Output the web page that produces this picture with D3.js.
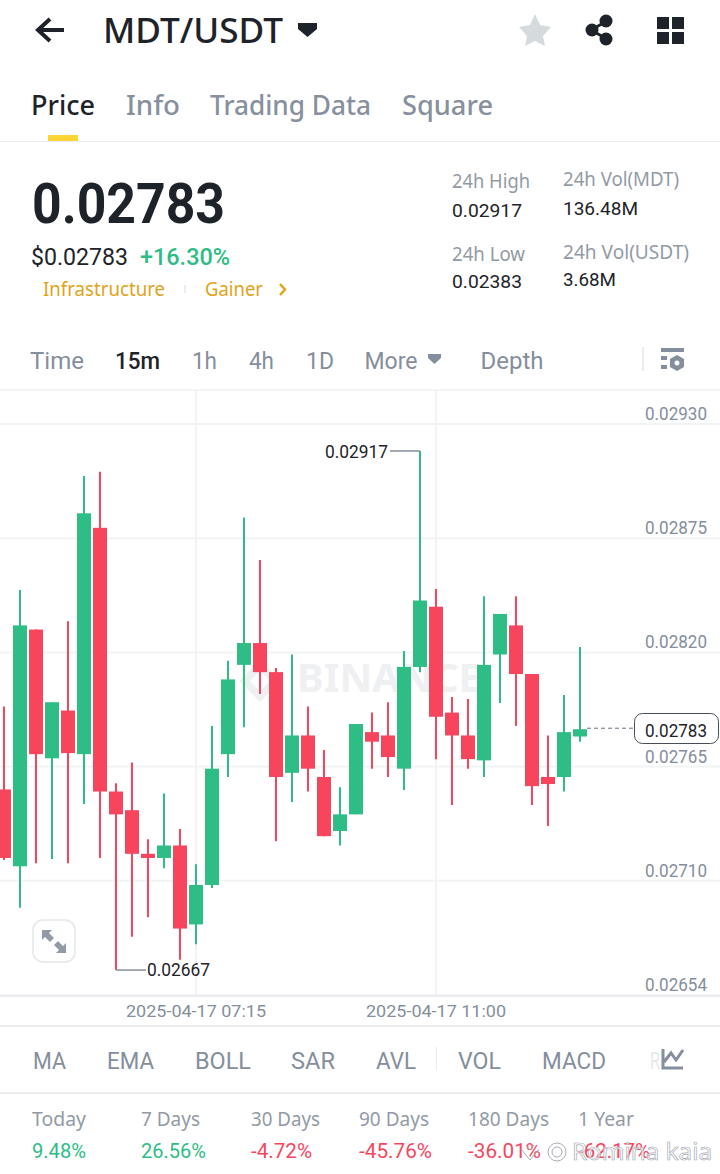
<!DOCTYPE html>
<html>
<head>
<meta charset="utf-8">
<style>
  html, body { margin: 0; padding: 0; background: #fff; }
  svg { display: block; }
</style>
<script src="https://cdn.jsdelivr.net/npm/d3@7"></script>
</head>
<body>
<svg id="chart"></svg>
<script>
// 15m candles, 04:15 to 13:15
const times = ["04:15","04:30","04:45","05:00","05:15","05:30","05:45","06:00","06:15","06:30","06:45","07:00","07:15",
  "07:30","07:45","08:00","08:15","08:30","08:45","09:00","09:15","09:30","09:45","10:00","10:15","10:30","10:45","11:00",
  "11:15","11:30","11:45","12:00","12:15","12:30","12:45","13:00","13:15"];
const opens = [0.02754,0.02717,0.02831,0.02769,0.02792,0.02771,0.0288,0.02753,0.02744,0.02723,0.02721,0.02727,0.02689,
  0.02708,0.02771,0.02814,0.028245,0.028105,0.02762,0.0278,0.0276,0.02734,0.02742,0.027816,0.0278,0.02764,0.02813,0.02842,
  0.02791,0.0278,0.02768,0.02819,0.02833,0.028096,0.0276,0.0276,0.027795];
const highs = [0.02794,0.0285,0.02831,0.02796,0.02835,0.02905,0.02907,0.02757,0.02767,0.0273,0.02752,0.02735,0.02718,
  0.027845,0.02816,0.02885,0.028645,0.028125,0.02819,0.02794,0.02773,0.02755,0.027855,0.02791,0.02796,0.028207,0.02917,0.028505,
  0.027985,0.027975,0.02847,0.028385,0.02847,0.028096,0.0278,0.027995,0.028226];
const lows = [0.0272,0.02697,0.027185,0.027205,0.027185,0.02747,0.02721,0.02667,0.02683,0.026925,0.02716,0.02672,0.026795,
  0.027065,0.0276,0.02784,0.028,0.02729,0.02748,0.02753,0.027315,0.02727,0.02742,0.02764,0.0276,0.027537,0.028105,0.027686,
  0.027465,0.02764,0.0276,0.027956,0.027845,0.027465,0.027364,0.02753,0.02777];
const closes = [0.02721,0.02833,0.02771,0.02796,0.027715,0.02887,0.02753,0.02742,0.02723,0.02721,0.02727,0.02687,0.02708,
  0.02764,0.02807,0.028245,0.028105,0.0276,0.0278,0.02764,0.027315,0.02742,0.027855,0.02777,0.027696,0.02813,0.02845,0.02789,
  0.0278,0.027686,0.02814,0.028385,0.028096,0.027556,0.027566,0.027816,0.02783];

const priceTicks = [0.0293,0.02875,0.0282,0.02765,0.0271,0.02655];
const priceLabels = ["0.02930","0.02875","0.02820","0.02765","0.02710","0.02654"];
const timeTicks = ["07:15","11:00"];

const tabs = [["Price",31,64],["Info",126,54],["Trading Data",210,161],["Square",402,91]];
const intervals = [["Time",30,54],["15m",115,45],["1h",192,25],["4h",249,25],["1D",306,28],["More",364.5,53],["Depth",480.5,63]];
const indicators = [["MA",33,33],["EMA",107,47],["BOLL",195,56],["SAR",291,44],["AVL",376,40],["VOL",458,43],["MACD",542,64]];
const periods = ["Today","7 Days","30 Days","90 Days","180 Days","1 Year"];
const periodChanges = ["9.48%","26.56%","-4.72%","-45.76%","-36.01%","-62.17%"];
const periodX = [32,141,251,359,468,578];
const periodW = [54,59,69,70,81,56];
const periodChangeW = [54,65,61,73,73,72];

const W = 720, H = 1174;
const dark = "#1e2329", grey = "#848e9c", line = "#eaecef", up = "#2ebd85", down = "#f8455e", gold = "#dfa31a";
const sans = "'Noto Sans', sans-serif", num = "Roboto, sans-serif";

const svg = d3.select("#chart").attr("width", W).attr("height", H);

function label(str, x, y, size, fill, width, weight, family) {
  const t = svg.append("text").attr("x", x).attr("y", y)
    .attr("font-size", size).attr("fill", fill)
    .attr("font-family", family || sans).attr("font-weight", weight || 400)
    .text(str);
  if (width) t.attr("textLength", width).attr("lengthAdjust", "spacingAndGlyphs");
  return t;
}

// header
svg.append("path").attr("d", "M64 30H39M50 19L38 30L50 41").attr("fill", "none")
  .attr("stroke", dark).attr("stroke-width", 4);
label("MDT/USDT", 103, 43, 34, dark, 180, 500);
svg.append("path").attr("d", "M298 23H317V29L307.5 37L298 29Z").attr("fill", dark);
svg.append("path").attr("fill", "#d5dadd")
  .attr("d", "M535 14L540 25L551 27L543 36L545 46L535 41L525 46L527 36L519 27L530 25Z");
svg.append("path").attr("fill", "none").attr("stroke", dark).attr("stroke-width", 3)
  .attr("d", "M607 21L591 30L607 39");
[[606,21,6.5],[592,30,6.5],[606,39,6.5]].forEach(c =>
  svg.append("circle").attr("cx", c[0]).attr("cy", c[1]).attr("r", c[2]).attr("fill", dark));
[[657,17],[672,17],[657,32],[672,32]].forEach(s =>
  svg.append("rect").attr("x", s[0]).attr("y", s[1]).attr("width", 12).attr("height", 12).attr("fill", dark));

tabs.forEach((t, i) => label(t[0], t[1], 115, 27, i === 0 ? dark : "#87909d", t[2], 500));
svg.append("rect").attr("x", 48).attr("y", 135).attr("width", 30).attr("height", 6).attr("fill", "#fcd535");
svg.append("rect").attr("x", 0).attr("y", 141).attr("width", W).attr("height", 1).attr("fill", line);

// price block
label("0.02783", 32, 223, 56, dark, 193, 700, num);
label("$0.02783", 31, 265, 24, dark, 97, 400, num);
label("+16.30%", 140, 265, 24, up, 90, 500, num);
label("Infrastructure", 43, 296, 20, gold, 122);
svg.append("rect").attr("x", 184).attr("y", 285).attr("width", 2).attr("height", 8).attr("fill", line);
label("Gainer", 205, 296, 20, gold, 58);
svg.append("path").attr("d", "M280 284L285 289.5L280 295").attr("fill", "none").attr("stroke", gold).attr("stroke-width", 2.5);

label("24h High", 452, 188, 20, "#929aa5", 78);
label("0.02917", 452, 217, 19, dark, 70, 400, num);
label("24h Low", 452, 261, 20, "#929aa5", 73);
label("0.02383", 452, 288, 19, dark, 70, 400, num);
label("24h Vol(MDT)", 563, 186, 20, "#929aa5", 116);
label("136.48M", 563, 215, 19, dark, 75, 400, num);
label("24h Vol(USDT)", 563, 259, 20, "#929aa5", 126);
label("3.68M", 563, 286, 19, dark, 53, 400, num);

// interval row
intervals.forEach(t => label(t[0], t[1], 369, 24, t[0] === "15m" ? dark : grey, t[2], t[0] === "15m" ? 500 : 400, num));
svg.append("path").attr("d", "M428 354H441V358L434.5 364L428 358Z").attr("fill", grey);
svg.append("rect").attr("x", 642).attr("y", 347).attr("width", 2).attr("height", 24).attr("fill", line);
svg.append("rect").attr("x", 661).attr("y", 348).attr("width", 23).attr("height", 4).attr("fill", grey);
svg.append("rect").attr("x", 661).attr("y", 356).attr("width", 6).attr("height", 4).attr("fill", grey);
svg.append("rect").attr("x", 661).attr("y", 365).attr("width", 6).attr("height", 4).attr("fill", grey);
svg.append("path").attr("d", "M677 355L684 359V367L677 371L670 367V359Z M677 360.5A2.5 2.5 0 1 0 677.01 360.5Z")
  .attr("fill", grey).attr("fill-rule", "evenodd");
svg.append("rect").attr("x", 0).attr("y", 389).attr("width", W).attr("height", 2).attr("fill", "#f3f4f5");

// scales
const parseTime = d3.utcParse("%Y-%m-%d %H:%M");
const toDate = t => parseTime("2025-04-17 " + t);
const x = d3.scaleUtc().domain([toDate(times[0]), toDate(times[times.length - 1])]).range([4, 580]);
const y = d3.scaleLinear().domain([priceTicks[priceTicks.length - 1], priceTicks[0]]).range([995, 424]);

// grid
svg.append("g").selectAll("line").data(priceTicks).join("line")
  .attr("x1", 0).attr("x2", W).attr("y1", d => y(d)).attr("y2", d => y(d))
  .attr("stroke", "#f2f3f4").attr("stroke-width", 2);
svg.append("g").selectAll("line").data(timeTicks).join("line")
  .attr("x1", d => x(toDate(d))).attr("x2", d => x(toDate(d))).attr("y1", 390).attr("y2", 995)
  .attr("stroke", "#f2f3f4").attr("stroke-width", 2);

// watermark
const mark = svg.append("g").attr("fill", "#eff0f2");
mark.append("path").attr("d", "M260 660L281 681L260 702L239 681Z M260 671L250 681L260 691L270 681Z").attr("fill-rule", "evenodd");
label("BINANCE", 297, 692, 40, "#eff0f2", 184, 700, sans);

// candles
const candles = times.map((t, i) => ({ t: toDate(t), o: opens[i], h: highs[i], l: lows[i], c: closes[i] }));
const colour = d => d.c >= d.o ? up : down;
const g = svg.append("g");
g.selectAll("line.wick").data(candles).join("line").attr("class", "wick")
  .attr("x1", d => x(d.t)).attr("x2", d => x(d.t))
  .attr("y1", d => y(d.h)).attr("y2", d => y(d.l))
  .attr("stroke", colour).attr("stroke-width", 2);
g.selectAll("rect").data(candles).join("rect")
  .attr("x", d => x(d.t) - 7).attr("width", 14)
  .attr("y", d => y(Math.max(d.o, d.c)))
  .attr("height", d => Math.max(2, Math.abs(y(d.o) - y(d.c))))
  .attr("fill", colour);

// high and low callouts
const hiIdx = d3.maxIndex(highs), loIdx = d3.minIndex(lows);
svg.append("path").attr("fill", "none").attr("stroke", grey).attr("stroke-width", 1.5)
  .attr("d", `M${x(candles[hiIdx].t)} ${y(highs[hiIdx])}H${x(candles[hiIdx].t) - 30}`);
label(highs[hiIdx].toFixed(5), 325, y(highs[hiIdx]) + 7, 18, dark, 63, 400, num);
svg.append("path").attr("fill", "none").attr("stroke", grey).attr("stroke-width", 1.5)
  .attr("d", `M${x(candles[loIdx].t)} ${y(lows[loIdx])}H${x(candles[loIdx].t) + 30}`);
label(lows[loIdx].toFixed(5), 147, y(lows[loIdx]) + 6, 18, dark, 63, 400, num);

// last price
const lastClose = closes[closes.length - 1];
svg.append("line").attr("x1", 587).attr("x2", 634).attr("y1", y(lastClose) - 1).attr("y2", y(lastClose) - 1)
  .attr("stroke", "#6b7280").attr("stroke-width", 1).attr("stroke-dasharray", "4 3");
svg.append("rect").attr("x", 634.5).attr("y", 713.5).attr("width", 84).attr("height", 30).attr("rx", 8)
  .attr("fill", "#fff").attr("stroke", "#474d57").attr("stroke-width", 1);

// axes
const yAxis = svg.append("g").attr("transform", "translate(0,0)")
  .call(d3.axisRight(y).tickValues(priceTicks).tickFormat((d, i) => priceLabels[i]).tickSize(0).offset(0));
yAxis.select(".domain").remove();
yAxis.selectAll("text").attr("x", 707).attr("y", -4).attr("dy", 0).attr("text-anchor", "end")
  .attr("fill", grey).attr("font-size", 18).attr("font-family", num)
  .attr("textLength", 62).attr("lengthAdjust", "spacingAndGlyphs");
label(lastClose.toFixed(5), 645, 737, 18, dark, 62, 400, num);

svg.append("rect").attr("x", 0).attr("y", 995).attr("width", W).attr("height", 2).attr("fill", line);
const fmt = d3.utcFormat("%Y-%m-%d %H:%M");
const xAxis = svg.append("g").attr("transform", "translate(0,1004)")
  .call(d3.axisBottom(x).tickValues(timeTicks.map(toDate)).tickFormat(fmt).tickSize(0).offset(0));
xAxis.select(".domain").remove();
xAxis.selectAll("text").attr("y", 13).attr("dy", 0)
  .attr("fill", grey).attr("font-size", 17).attr("font-family", num)
  .attr("textLength", 140).attr("lengthAdjust", "spacingAndGlyphs");

// expand button
svg.append("rect").attr("x", 33).attr("y", 920).attr("width", 42).attr("height", 42).attr("rx", 10)
  .attr("fill", "#fff").attr("stroke", "#eaecef").attr("stroke-width", 2);
svg.append("path").attr("fill", "#929aa5")
  .attr("d", "M42 930H52L49 933L54 938L50 942L45 937L42 940Z M66 953H56L59 950L54 945L58 941L63 946L66 943Z");

// indicator row
svg.append("rect").attr("x", 0).attr("y", 1025).attr("width", W).attr("height", 2).attr("fill", line);
indicators.forEach(t => label(t[0], t[1], 1069, 23, grey, t[2], 400, num));
svg.append("rect").attr("x", 436).attr("y", 1047).attr("width", 1).attr("height", 24).attr("fill", line);
label("R", 650, 1069, 23, "#e6e8eb", 10, 400, num);
svg.append("path").attr("fill", "none").attr("stroke", grey).attr("stroke-width", 3)
  .attr("d", "M663 1049V1068H683M664 1062L671 1053L676 1060L683 1050");
svg.append("rect").attr("x", 0).attr("y", 1092).attr("width", W).attr("height", 2).attr("fill", line);

// period changes
periods.forEach((p, i) => {
  label(p, periodX[i], 1126, 20, "#929aa5", periodW[i]);
  const v = periodChanges[i];
  label(v, periodX[i], 1158, 20, v[0] === "-" ? down : up, periodChangeW[i], 400, num);
});

// photo credit drawn over the last row
const credit = svg.append("g").attr("fill", "none").attr("stroke", "#a8adb5").attr("stroke-width", 1);
credit.append("path").attr("d", "M521 1149L530 1160L539 1149M526 1145L530 1150L534 1145");
credit.append("circle").attr("cx", 557).attr("cy", 1152).attr("r", 9);
credit.append("circle").attr("cx", 557).attr("cy", 1152).attr("r", 5);
label("Romina kaia", 572, 1160, 24, "rgba(255,255,255,0.6)", 140)
  .attr("stroke", "#a8adb5").attr("stroke-width", 0.7);
</script>
</body>
</html>
